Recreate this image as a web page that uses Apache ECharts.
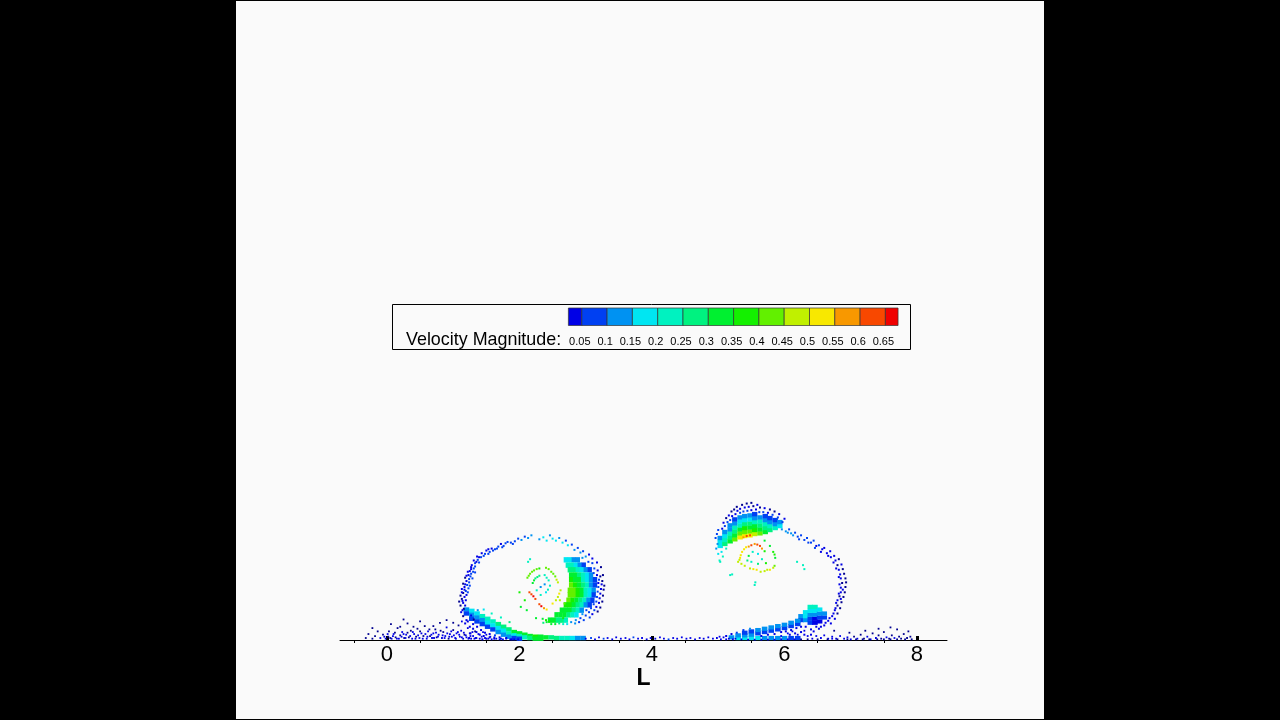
<!DOCTYPE html>
<html><head><meta charset="utf-8">
<style>html,body{margin:0;padding:0;background:#000}#c{width:1280px;height:720px}</style>
<script src="https://cdn.jsdelivr.net/npm/echarts@6/dist/echarts.min.js"></script>
</head><body><div id="c"></div>
<script>
// x, y in L; third value is velocity magnitude
const leftCrescent=[
[2.70,1.21,.18],[2.76,1.21,.16],[2.82,1.21,.14],[2.88,1.21,.10],
[2.73,1.13,.22],[2.79,1.13,.2],[2.85,1.13,.16],[2.91,1.13,.12],[2.97,1.13,.08],
[2.76,1.06,.26],[2.82,1.06,.26],[2.88,1.06,.2],[2.94,1.06,.16],[3.0,1.06,.12],[3.06,1.06,.08],
[2.78,.98,.3],[2.84,.98,.3],[2.9,.98,.26],[2.96,.98,.2],[3.02,.98,.16],[3.08,.98,.1],
[2.78,.91,.36],[2.84,.91,.34],[2.9,.91,.3],[2.96,.91,.24],[3.02,.91,.18],[3.08,.91,.12],[3.14,.91,.08],
[2.78,.83,.42],[2.84,.83,.38],[2.9,.83,.34],[2.96,.83,.28],[3.02,.83,.2],[3.08,.83,.14],[3.14,.83,.08],
[2.76,.75,.44],[2.82,.75,.42],[2.88,.75,.38],[2.94,.75,.32],[3.0,.75,.24],[3.06,.75,.16],[3.12,.75,.1],
[2.76,.68,.44],[2.82,.68,.42],[2.88,.68,.36],[2.94,.68,.3],[3.0,.68,.22],[3.06,.68,.16],[3.12,.68,.08],
[2.74,.60,.4],[2.8,.60,.38],[2.86,.60,.34],[2.92,.60,.28],[2.98,.60,.22],[3.04,.60,.14],[3.1,.60,.08],
[2.7,.53,.36],[2.76,.53,.36],[2.82,.53,.3],[2.88,.53,.26],[2.94,.53,.2],[3.0,.53,.14],[3.06,.53,.08],
[2.64,.45,.34],[2.7,.45,.34],[2.76,.45,.3],[2.82,.45,.26],[2.88,.45,.2],[2.94,.45,.14],
[2.56,.38,.32],[2.62,.38,.32],[2.68,.38,.3],[2.74,.38,.26],[2.8,.38,.22],[2.86,.38,.16],
[2.46,.30,.3],[2.52,.30,.3],[2.58,.30,.28],[2.64,.30,.26],[2.7,.30,.2]];
const crescentFringe=[
[3.0,1.26,.1],[2.95,1.24,.12],[3.04,1.18,.07],[3.1,1.16,.05],[3.13,1.08,.05],[3.18,1.05,.03],[3.12,1.01,.06],[3.17,.98,.04],[3.22,.96,.02],[3.2,.91,.05],
[3.25,.89,.02],[3.19,.86,.03],[3.24,.84,.04],[3.28,.82,.02],[3.19,.8,.06],[3.23,.77,.03],[3.27,.76,.02],[3.18,.73,.06],[3.22,.7,.03],[3.26,.67,.02],
[3.17,.65,.05],[3.21,.63,.03],[3.16,.58,.05],[3.2,.56,.03],[3.25,.58,.02],[3.12,.54,.07],[3.16,.5,.04],[3.22,.49,.02],[3.08,.48,.07],[3.13,.45,.05],
[3.18,.43,.02],[3.01,.45,.09],[3.05,.42,.07],[3.1,.39,.04],[2.95,.39,.1],[3.0,.37,.07],[3.06,.34,.05],[2.92,.33,.09],[2.97,.3,.06],[2.85,.3,.12],
[2.9,.27,.08],[2.78,.27,.14],[2.84,.25,.1],[2.72,.24,.18],[2.66,.24,.22],[2.6,.25,.28],[2.54,.24,.3],[2.48,.24,.3],[2.41,.27,.3],[2.36,.26,.28]];
const rightTopBlob=[
[5.03,1.42,.18],[5.03,1.48,.16],[5.03,1.54,.1],
[5.10,1.45,.26],[5.10,1.51,.22],[5.10,1.57,.16],[5.10,1.63,.1],
[5.18,1.49,.32],[5.18,1.55,.28],[5.18,1.61,.2],[5.18,1.67,.14],[5.18,1.73,.1],
[5.25,1.52,.42],[5.25,1.58,.34],[5.25,1.64,.28],[5.25,1.7,.2],[5.25,1.76,.12],[5.25,1.82,.08],
[5.33,1.55,.5],[5.33,1.61,.4],[5.33,1.67,.32],[5.33,1.73,.24],[5.33,1.79,.16],[5.33,1.85,.1],
[5.40,1.57,.54],[5.40,1.63,.44],[5.40,1.69,.36],[5.40,1.75,.26],[5.40,1.81,.18],[5.40,1.87,.1],
[5.48,1.58,.52],[5.48,1.64,.42],[5.48,1.7,.34],[5.48,1.76,.26],[5.48,1.82,.16],[5.48,1.88,.1],
[5.55,1.6,.46],[5.55,1.66,.38],[5.55,1.72,.3],[5.55,1.78,.22],[5.55,1.84,.14],[5.55,1.9,.08],
[5.63,1.61,.42],[5.63,1.67,.34],[5.63,1.73,.28],[5.63,1.79,.2],[5.63,1.85,.12],
[5.71,1.63,.34],[5.71,1.69,.28],[5.71,1.75,.2],[5.71,1.81,.14],[5.71,1.87,.08],
[5.78,1.66,.26],[5.78,1.72,.2],[5.78,1.78,.14],[5.78,1.84,.08],
[5.86,1.69,.2],[5.86,1.75,.14],[5.86,1.81,.08],[5.93,1.72,.16],[5.93,1.78,.1]];
const topBlobFringe=[
[5.06,1.68,.04],[5.1,1.72,.06],[5.08,1.77,.03],[5.14,1.78,.06],[5.12,1.84,.02],[5.18,1.81,.05],[5.16,1.88,.03],[5.21,1.87,.03],[5.2,1.94,.02],[5.26,1.9,.04],
[5.24,1.97,.02],[5.29,1.95,.03],[5.28,2.01,.02],[5.33,1.92,.05],[5.33,1.98,.03],[5.36,2.04,.02],[5.38,1.94,.06],[5.4,2.0,.03],[5.43,2.06,.02],[5.44,1.95,.05],
[5.46,2.01,.03],[5.5,2.07,.02],[5.5,1.96,.04],[5.53,2.02,.02],[5.57,1.97,.04],[5.59,2.04,.03],[5.62,1.93,.06],[5.63,2.0,.02],[5.68,1.93,.05],[5.7,1.99,.03],
[5.75,1.92,.04],[5.78,1.97,.02],[5.82,1.89,.05],[5.85,1.94,.02],[5.9,1.85,.05],[5.92,1.9,.03],[5.97,1.78,.07],[6.0,1.83,.04],[4.98,1.6,.06],[5.0,1.66,.05]];
const leftBelt=[
[1.2,.46,.1],[1.2,.40,.06],
[1.28,.44,.16],[1.28,.38,.1],[1.28,.32,.06],
[1.36,.40,.18],[1.36,.34,.12],[1.36,.28,.06],
[1.44,.36,.2],[1.44,.30,.14],[1.44,.24,.08],
[1.52,.32,.22],[1.52,.26,.16],[1.52,.20,.08],
[1.6,.28,.24],[1.6,.22,.16],[1.6,.16,.08],
[1.68,.24,.26],[1.68,.18,.18],[1.68,.12,.1],
[1.76,.20,.26],[1.76,.14,.18],[1.76,.08,.1],
[1.84,.16,.28],[1.84,.10,.2],[1.84,.05,.1],
[1.92,.12,.3],[1.92,.07,.18],[1.92,.03,.08],
[2.0,.10,.3],[2.0,.06,.2],[2.0,.02,.06],
[2.08,.08,.32],[2.08,.04,.2],[2.16,.06,.34],[2.16,.03,.26],[2.24,.05,.35],[2.24,.02,.3],[2.32,.05,.34],[2.32,.02,.3],
[2.4,.04,.3],[2.48,.04,.28],[2.56,.03,.28],[2.64,.03,.22],[2.72,.03,.2],[2.8,.03,.16],[2.88,.03,.1],[2.96,.03,.1]];
const rightLobeBelt=[
[6.25,.30,.08],[6.25,.36,.12],[6.32,.30,.1],[6.32,.36,.16],[6.32,.42,.18],
[6.39,.26,.05],[6.39,.32,.08],[6.39,.38,.14],[6.39,.44,.18],[6.39,.50,.2],
[6.46,.26,.03],[6.46,.32,.04],[6.46,.38,.1],[6.46,.44,.18],[6.46,.50,.2],
[6.53,.28,.03],[6.53,.34,.06],[6.53,.40,.12],[6.53,.46,.16],
[6.6,.34,.08],[6.6,.40,.12],
[5.2,.04,.12],[5.3,.03,.15],[5.3,.07,.1],[5.4,.03,.18],[5.4,.07,.12],[5.4,.11,.08],
[5.5,.03,.18],[5.5,.08,.12],[5.5,.13,.08],[5.6,.03,.16],[5.6,.10,.06],[5.6,.15,.1],
[5.7,.03,.14],[5.7,.12,.05],[5.7,.17,.1],[5.8,.03,.12],[5.8,.14,.05],[5.8,.19,.1],
[5.9,.03,.12],[5.9,.16,.05],[5.9,.21,.1],[6.0,.03,.1],[6.0,.18,.05],[6.0,.23,.1],
[6.1,.03,.08],[6.1,.21,.05],[6.1,.26,.1],[6.2,.03,.06],[6.2,.24,.06],[6.2,.29,.1]];
const belowBeltSpeckle=[
[1.22,.28,.03],[1.3,.24,.03],[1.25,.2,.03],[1.36,.2,.03],[1.42,.15,.03],[1.35,.12,.03],[1.48,.11,.03],[1.46,.06,.03],[1.55,.09,.03],[1.55,.04,.04],
[1.63,.07,.05],[1.62,.02,.03],[1.7,.04,.04],[1.72,.02,.03],[1.8,.03,.03],[1.88,.01,.03],[1.15,.36,.02],[1.18,.25,.03],[1.3,.17,.03],[1.4,.08,.03],
[1.26,.1,.03],[1.5,.02,.03],[1.44,.01,.03],[1.34,.03,.03],[1.24,.03,.03],
[5.95,.12,.04],[6.02,.13,.04],[6.1,.15,.03],[6.18,.18,.03],[6.25,.2,.03],[6.32,.2,.03],[6.08,.08,.03],[6.16,.1,.03],[6.25,.12,.03],[6.3,.08,.03],
[6.4,.16,.03],[6.48,.2,.03],[6.55,.2,.03],[6.4,.08,.03],[5.85,.09,.03],[5.75,.08,.03],[5.65,.06,.03],[5.12,.06,.04],[5.2,.09,.04],[5.28,.11,.05],[5.38,.15,.05],[5.48,.17,.12]];
const leftRing=[
[1.12,.42,.03],[1.16,.47,.02],[1.11,.52,.02],[1.15,.56,.03],[1.09,.58,.02],[1.13,.62,.02],[1.17,.65,.04],[1.11,.67,.02],[1.15,.71,.02],[1.19,.74,.05],
[1.13,.77,.03],[1.17,.8,.03],[1.21,.83,.06],[1.15,.85,.02],[1.2,.89,.04],[1.24,.92,.06],[1.18,.94,.02],[1.23,.98,.04],[1.27,1.0,.07],[1.22,1.03,.03],
[1.27,1.07,.04],[1.31,1.08,.07],[1.28,1.13,.04],[1.33,1.16,.06],[1.31,1.2,.03],[1.37,1.21,.06],[1.36,1.26,.03],[1.42,1.25,.07],[1.43,1.31,.04],[1.48,1.3,.07],
[1.5,1.35,.04],[1.55,1.33,.08],[1.58,1.38,.04],[1.63,1.37,.07],[1.68,1.41,.05],[1.72,1.45,.04],[1.76,1.42,.08],[1.82,1.48,.05],[1.87,1.47,.09],[1.93,1.49,.06],
[1.98,1.53,.07],[2.03,1.51,.11],[2.08,1.56,.09],[2.13,1.54,.1],[2.18,1.58,.12],[2.3,1.52,.14],[2.36,1.55,.16],[2.41,1.5,.17],[2.46,1.58,.13],[2.5,1.53,.17],
[2.55,1.5,.16],[2.6,1.54,.11],[2.65,1.47,.16],[2.7,1.5,.09],[2.73,1.43,.15],[2.79,1.44,.07],[2.83,1.36,.14],[2.88,1.39,.06],[2.92,1.32,.1],[2.96,1.34,.05],
[3.05,1.29,.04],[3.1,1.23,.03],[3.17,1.17,.03],[3.23,1.1,.02],[3.26,.98,.02],[1.27,.37,.03],[1.31,.31,.02],[1.2,.3,.03],[1.37,.45,.12],[1.46,.46,.16],[1.58,.4,.2],[1.72,.34,.22],[1.85,.27,.26],
[1.14,.45,.03],[1.18,.52,.03],[1.14,.59,.04],[1.19,.6,.03],[1.2,.68,.04],[1.13,.72,.03],[1.17,.76,.03],[1.23,.78,.06],[1.18,.84,.03],[1.24,.87,.05],
[1.2,.97,.03],[1.26,.96,.05],[1.25,1.04,.04],[1.3,1.03,.06],[1.27,1.1,.03],[1.33,1.11,.05],[1.35,1.18,.04],[1.39,1.17,.07],[1.39,1.25,.04],[1.46,1.27,.05],
[1.53,1.3,.06],[1.53,1.37,.03],[1.6,1.35,.06],[1.66,1.38,.06],[1.74,1.4,.06],[1.79,1.46,.05],[1.9,1.45,.07],[1.22,.72,.06],[1.25,.82,.07],[1.29,.93,.08],[1.33,1.02,.08]];
const rightTail=[
[5.96,1.67,.12],[6.02,1.64,.1],[6.07,1.67,.08],[6.1,1.61,.1],[6.16,1.62,.07],[6.2,1.56,.08],[6.25,1.58,.06],[6.3,1.51,.06],[6.34,1.54,.05],[6.4,1.47,.05],
[6.44,1.5,.05],[6.48,1.42,.04],[6.52,1.43,.05],[6.57,1.37,.04],[6.6,1.39,.03],[6.64,1.31,.04],[6.69,1.34,.03],[6.7,1.25,.03],[6.75,1.27,.03],[6.77,1.2,.03],
[6.82,1.22,.02],[6.8,1.13,.02],[6.86,1.14,.03],[6.82,1.06,.03],[6.88,1.07,.02],[6.84,.99,.03],[6.9,1.0,.02],[6.85,.93,.03],[6.92,.93,.02],[6.87,.86,.02],
[6.93,.87,.02],[6.85,.79,.03],[6.92,.8,.02],[6.85,.72,.03],[6.91,.72,.02],[6.83,.66,.02],[6.89,.65,.02],[6.8,.6,.03],[6.86,.57,.02],[6.8,.52,.02],
[6.84,.48,.02],[6.76,.45,.03],[6.8,.4,.02],[6.72,.36,.03],[6.76,.32,.03],[6.66,.29,.04],[6.7,.25,.03],[6.6,.22,.03],[6.52,.17,.03],[6.44,.13,.03],
[4.99,1.45,.12],[4.97,1.38,.14],[5.0,1.3,.18],[5.05,1.33,.16],[5.07,1.26,.2],[5.02,1.2,.2],[5.12,1.38,.2],[4.96,1.54,.06],
[6.05,1.62,.12],[6.13,1.58,.1],[6.22,1.52,.09],[6.36,1.47,.06],[6.46,1.39,.05],[6.55,1.33,.04],[6.66,1.27,.04],[6.74,1.17,.03],[6.78,1.08,.03],[6.82,.95,.03],
[6.83,.84,.03],[6.88,.76,.03],[6.82,.7,.03],[6.85,.62,.03],[6.78,.56,.03],[6.77,.48,.03],[6.74,.4,.04],[6.68,.33,.04],[6.62,.26,.04]];
const leftBaseSpeckle=[
[-.32,.03,.02],[-.28,.09,.02],[-.22,.02,.02],[-.18,.06,.02],[-.14,.13,.02],[-.1,.03,.03],[-.06,.08,.02],[-.02,.02,.03],[.02,.05,.02],[.03,.13,.02],
[.07,.02,.03],[.1,.09,.03],[.13,.04,.02],[.16,.18,.02],[.18,.02,.03],[.2,.07,.02],[.23,.12,.03],[.26,.03,.02],[.29,.08,.03],[.31,.25,.02],
[.33,.04,.02],[.36,.14,.02],[.38,.02,.03],[.41,.09,.03],[.44,.05,.02],[.46,.17,.02],[.49,.03,.03],[.52,.1,.03],[.55,.06,.02],[.57,.21,.02],
[.6,.02,.03],[.62,.13,.03],[.65,.06,.02],[.68,.03,.03],[.7,.1,.03],[.73,.16,.02],[.75,.04,.02],[.78,.08,.03],[.8,.26,.02],[.83,.03,.03],
[.85,.12,.02],[.88,.06,.03],[.9,.19,.03],[.93,.02,.02],[.95,.09,.03],[.98,.05,.03],[1.0,.15,.02],[1.03,.03,.03],[1.05,.1,.03],[1.08,.22,.02],
[1.1,.05,.03],[1.12,.14,.03],[1.15,.02,.03],[1.17,.08,.02],[1.2,.04,.03],[1.22,.18,.03],[1.25,.1,.03],[1.27,.02,.03],[1.3,.06,.03],[1.33,.13,.02],
[1.35,.03,.03],[1.38,.09,.03],[1.4,.02,.03],[1.43,.05,.03],[1.45,.12,.03],[1.48,.03,.03],[1.5,.08,.03],[1.53,.02,.04],[1.56,.05,.03],[1.58,.01,.03],
[1.62,.04,.04],[1.65,.02,.03],[1.7,.01,.04],[1.75,.01,.03],[1.8,.02,.03],[1.86,.01,.03],[1.92,.01,.03],[1.98,.01,.03],[.5,.28,.02],[.9,.3,.02],
[.2,.2,.02],[.06,.24,.02],[1.0,.26,.02],[.7,.21,.02],[1.13,.28,.03],[.4,.2,.02],[-.22,.18,.02],[.25,.31,.02],
[-.04,.05,.03],[.01,.09,.03],[.05,.03,.02],[.09,.06,.03],[.12,.11,.02],[.15,.02,.03],[.22,.05,.03],[.25,.09,.03],[.28,.03,.03],[.31,.11,.02],
[.35,.06,.03],[.39,.12,.03],[.43,.02,.03],[.47,.07,.03],[.5,.13,.02],[.54,.02,.03],[.58,.09,.03],[.61,.05,.03],[.64,.16,.02],[.67,.08,.03],
[.71,.03,.03],[.74,.11,.03],[.77,.05,.03],[.81,.14,.02],[.84,.07,.03],[.87,.03,.03],[.91,.1,.03],[.94,.05,.03],[.97,.13,.03],[1.01,.07,.03],
[1.04,.02,.03],[1.07,.12,.03],[1.09,.08,.03],[1.13,.04,.03],[1.16,.11,.03],[1.19,.07,.03],[1.23,.02,.03],[1.26,.06,.03],[1.29,.12,.03],[1.32,.02,.03]];
const midBaseSpeckle=[
[3.0,.02,.04],[3.08,.03,.05],[3.14,.01,.03],[3.2,.04,.04],[3.27,.02,.05],[3.33,.03,.03],[3.4,.01,.04],[3.46,.04,.03],[3.53,.02,.04],[3.6,.03,.03],
[3.66,.01,.04],[3.72,.04,.05],[3.79,.02,.03],[3.85,.03,.04],[3.92,.01,.03],[3.98,.03,.04],[4.05,.02,.03],[4.12,.04,.04],[4.18,.02,.03],[4.25,.01,.05],
[4.32,.03,.03],[4.38,.02,.04],[4.45,.04,.03],[4.52,.02,.04],[4.58,.03,.03],[4.65,.01,.04],[4.72,.03,.03],[4.78,.02,.04],[4.85,.04,.03],[4.92,.02,.03],
[4.98,.03,.04],[5.04,.01,.03],[5.12,.01,.03],[5.22,.01,.03],[5.35,.01,.04],[5.45,.005,.03],[5.55,.005,.03],[5.65,.005,.04],[5.75,.005,.04],[5.85,.005,.03],
[5.02,.05,.04],[5.08,.04,.04],[5.16,.02,.04],[5.26,.02,.04],[5.95,.01,.03],[6.05,.01,.03],[6.15,.01,.03]];
const rightBaseSpeckle=[
[5.95,.06,.03],[6.05,.1,.03],[6.12,.13,.03],[6.2,.08,.03],[6.3,.14,.03],[6.35,.06,.03],[6.42,.02,.03],[6.48,.06,.04],[6.55,.03,.04],[6.6,.07,.03],
[6.66,.02,.04],[6.72,.05,.03],[6.78,.02,.03],[6.84,.06,.03],[6.9,.02,.03],[6.95,.04,.03],[7.0,.01,.03],[7.05,.05,.02],[7.1,.02,.03],[7.15,.08,.02],
[7.2,.02,.02],[7.25,.05,.03],[7.3,.01,.03],[7.33,.1,.02],[7.38,.03,.03],[7.42,.07,.02],[7.46,.02,.02],[7.5,.12,.02],[7.54,.04,.03],[7.58,.02,.02],
[7.62,.07,.02],[7.66,.03,.03],[7.7,.16,.02],[7.73,.05,.02],[7.76,.02,.02],[7.8,.09,.02],[7.85,.03,.02],[7.87,.13,.02],[7.9,.05,.02],[7.22,.14,.02],
[6.98,.11,.02],[6.75,.14,.02],[7.6,.19,.02],[7.42,.17,.02],[6.25,.01,.02],[6.35,.01,.02],[6.5,.01,.02],[6.65,.01,.02],[6.8,.01,.02],[6.72,.02,.03],
[6.95,.01,.02],[7.08,.01,.02],[7.18,.01,.02],[7.28,.01,.02],[7.4,.01,.02],[7.5,.01,.02],[7.6,.01,.02],[7.7,.01,.02],[7.82,.01,.02],[7.92,.01,.02]];
const leftSwirl=[
[2.15,.72,.62],[2.18,.69,.6],[2.21,.66,.65],[2.24,.62,.6],[2.3,.54,.62],[2.33,.51,.65],[2.37,.48,.55],[2.41,.46,.5],
[2.5,.55,.5],[2.55,.6,.48],[2.6,.7,.5],[2.62,.75,.48],[2.12,.94,.42],[2.16,1.0,.4],[2.22,1.05,.42],[2.3,1.08,.38],
[2.4,1.09,.4],[2.48,1.03,.42],[2.54,.96,.44],[2.58,.87,.46],[2.2,.86,.3],[2.24,.93,.28],[2.3,.97,.26],[2.38,.98,.24],
[2.44,.9,.22],[2.46,.82,.2],[2.4,.72,.18],[2.32,.68,.2],[2.26,.75,.24],[2.32,.8,.14],[2.38,.84,.14],[2.0,.72,.35],
[2.13,1.18,.2],[2.16,1.22,.2],[2.11,.45,.34],[2.35,.32,.34],[2.4,.3,.36],[2.45,.28,.36],[2.66,.33,.36],[2.61,.6,.45],
[2.68,.55,.42],[2.08,.6,.36],[2.02,.5,.34],[2.25,.33,.34],
[2.14,.97,.42],[2.19,1.03,.4],[2.26,1.07,.4],[2.44,1.07,.42],[2.51,1.0,.44],[2.56,.91,.46],[2.22,.9,.3],[2.27,.95,.27],[2.41,.94,.22],[2.43,.76,.2],[2.58,.65,.48]];
const rightSwirl=[
[5.43,1.57,.6],[5.48,1.58,.62],[5.38,1.55,.58],[5.5,1.43,.6],[5.55,1.45,.58],[5.63,1.42,.62],[5.66,1.38,.58],[5.42,1.4,.52],
[5.33,1.24,.5],[5.36,1.33,.5],[5.3,1.18,.46],[5.4,1.12,.48],[5.48,1.08,.48],[5.58,1.06,.5],[5.64,1.03,.46],[5.7,1.04,.48],
[5.83,1.09,.46],[5.78,1.06,.5],[5.83,1.33,.35],[5.86,1.24,.34],[5.7,1.5,.3],[5.78,1.42,.3],[5.46,1.27,.3],[5.52,1.33,.24],
[5.6,1.3,.16],[5.66,1.22,.2],[5.6,1.15,.28],[5.5,1.18,.22],[5.44,1.2,.28],[5.7,1.34,.36],[5.72,1.16,.38],[5.03,1.18,.2],
[5.18,.98,.2],[5.21,.99,.2],[5.55,.83,.2],[5.56,.87,.2],[6.19,1.18,.22],[6.28,1.13,.22],[6.3,1.07,.22],
[5.39,1.37,.5],[5.34,1.28,.5],[5.32,1.21,.48],[5.35,1.15,.47],[5.53,1.07,.5],[5.74,1.06,.46],[5.85,1.12,.44],[5.85,1.29,.35],[5.46,1.41,.56],[5.59,1.44,.6]];
const xMajorTicks=[0,2,4,6,8];
const xMinorTicks=[-.5,.5,1.5,2.5,3.5,4.5,5.5,6.5,7.5];
const bandEdges=[.0235,.05,.1,.15,.2,.25,.3,.35,.4,.45,.5,.55,.6,.65,.675];
const bandColors=['#0000e6','#0040f2','#0092f2','#00e6f2','#00f2c0','#00f280','#00f030','#14f000','#62f000','#c0f000','#f8e800','#f89800','#f84800','#f00000'];
const scaleLabelValues=[.05,.1,.15,.2,.25,.3,.35,.4,.45,.5,.55,.6,.65];
const legendTitle='Velocity Magnitude:';
const axisName='L';

const pieces=[{lt:.0235,color:'#000090'}];
bandColors.forEach((c,i)=>pieces.push({gte:bandEdges[i],lt:i===13?1:bandEdges[i+1],color:c}));
const sc=(data,size,z,symbol)=>({type:'scatter',data,symbol:symbol||'rect',symbolSize:size,clip:false,silent:true,z,itemStyle:{opacity:1},xAxisIndex:0,yAxisIndex:0});
const bandData=bandColors.map((c,i)=>[bandEdges[i],bandEdges[i+1],i]);
const chart=echarts.init(document.getElementById('c'),null,{renderer:'canvas'});
const pointSeries=[
  sc(leftCrescent,[4.4,5.4],2),sc(rightTopBlob,[5.4,4.4],2),sc(leftBelt,[5.6,4.4],2),sc(rightLobeBelt,[5.6,4.2],2),
  sc(crescentFringe,2,3),sc(topBlobFringe,2,3),sc(belowBeltSpeckle,2,3),
  sc(leftRing,2,3),sc(rightTail,2,3),sc(leftBaseSpeckle,1.8,3),sc(midBaseSpeckle,1.8,3),sc(rightBaseSpeckle,1.8,3),
  sc(leftSwirl,2,4),sc(rightSwirl,2,4)];
chart.setOption({
 animation:false,backgroundColor:'#000',
 textStyle:{fontFamily:'Liberation Sans'},
 graphic:[
  {type:'rect',z:-10,shape:{x:236,y:1,width:808,height:718},style:{fill:'#fafafa'}},
  {type:'rect',z:1,shape:{x:392.5,y:304.5,width:518,height:45},style:{fill:'none',stroke:'#000',lineWidth:1}},
  {type:'text',z:5,x:406,y:340,style:{text:legendTitle,fill:'#000',font:'17.9px "Liberation Sans"',textVerticalAlign:'middle'}}
 ],
 grid:[{left:340,width:607,top:375,height:265},{left:556.5,width:354.2,top:308,height:17.5}],
 xAxis:[
  {gridIndex:0,type:'value',min:-.709,max:8.453,splitLine:{show:false},
   axisLine:{show:true,onZero:false,lineStyle:{color:'#000',width:1}},
   axisTick:{show:true,inside:true,length:4,customValues:xMajorTicks,lineStyle:{color:'#000',width:3}},
   axisLabel:{show:true,customValues:xMajorTicks,formatter:v=>String(v),color:'#000',fontSize:22,margin:4,hideOverlap:false},
   name:axisName,nameLocation:'middle',nameGap:27,nameTextStyle:{color:'#000',fontSize:23,fontWeight:'bold'}},
  {gridIndex:0,type:'value',min:-.709,max:8.453,splitLine:{show:false},
   axisLine:{show:false},axisLabel:{show:false},
   axisTick:{show:true,inside:true,length:3,customValues:xMinorTicks,lineStyle:{color:'#000',width:1}}},
  {gridIndex:1,type:'value',min:0,max:.7,interval:.05,splitLine:{show:false},axisLine:{show:false},axisTick:{show:false},
   axisLabel:{show:true,customValues:scaleLabelValues,color:'#000',fontSize:11,margin:11,padding:[0,4,0,0],formatter:v=>String(+v.toFixed(2))}}
 ],
 yAxis:[
  {gridIndex:0,type:'value',min:0,max:4,show:false},
  {gridIndex:1,type:'value',min:0,max:1,show:false}
 ],
 visualMap:{show:false,type:'piecewise',dimension:2,seriesIndex:pointSeries.map((s,i)=>i),pieces},
 series:[...pointSeries,
  {type:'custom',xAxisIndex:2,yAxisIndex:1,data:bandData,silent:true,clip:false,
   renderItem:(p,api)=>{const a=api.coord([api.value(0),1]),b=api.coord([api.value(1),0]);
    return {type:'rect',shape:{x:a[0],y:a[1],width:b[0]-a[0],height:b[1]-a[1]},
     style:{fill:bandColors[api.value(2)],stroke:'#333',lineWidth:.7}};}}
 ]
});
</script></body></html>
